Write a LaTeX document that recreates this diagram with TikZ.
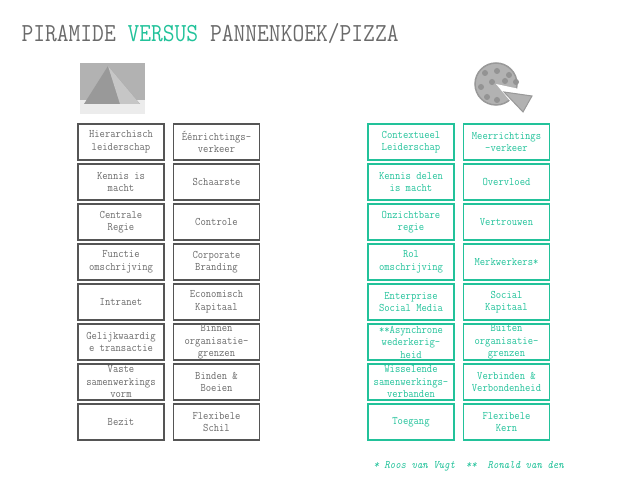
\documentclass[tikz,border=0pt]{standalone}
\usepackage{fontspec}
\setmainfont{Latin Modern Mono}
\definecolor{tealc}{HTML}{22C29A}
\definecolor{grayb}{HTML}{555555}
\definecolor{grayt}{HTML}{6A6A6A}
\begin{document}
\begin{tikzpicture}[x=1pt,y=-1pt,
  cell/.style={draw,line width=1.4pt,minimum width=86pt,minimum height=36pt,inner sep=0pt},
  txt/.style={align=center,font=\fontsize{11.5}{12.5}\selectfont\addfontfeature{FakeStretch=0.9},inner sep=0pt},
  lft/.style={draw=grayb,text=grayt},
  rgt/.style={draw=tealc,text=tealc}]
\useasboundingbox (0,0) rectangle (638,478);
\node[anchor=west,font=\fontsize{26}{27}\selectfont\addfontfeature{FakeStretch=0.88},text=grayt] (title) at (18,34) {PIRAMIDE \textcolor{tealc}{VERSUS} PANNENKOEK/PIZZA};
% pyramid picture
\node[fill=gray!60,minimum width=65pt,minimum height=51pt,inner sep=0pt] (pyr) at (112.5,88.5) {};
\fill[gray!15] (80,100) rectangle (145,114);
\fill[gray!80] (108,66) -- (84,104) -- (140,104) -- cycle;
\fill[gray!45] (108,66) -- (120,104) -- (140,104) -- cycle;
% pizza picture
\node[circle,fill=gray!60,draw=gray!80,line width=1.5pt,minimum size=42pt,inner sep=0pt] (pizza) at (496,84) {};
\fill[white] (496,84) -- (524,90) -- (516,108) -- cycle;
\fill[gray!60,draw=gray!80,line width=1pt] (504,92) -- (532,96) -- (523,112) -- cycle;
\foreach \a/\b in {485/73,497/71,509/75,481/87,492/82,505/81,487/97,497/100,516/82} \fill[gray!85] (\a,\b) circle (3pt);
\newcommand\bx[5]{%
  \node[cell,#4] (#1) at (#2,#3) {};
  \node[txt,#4,draw=none] at (#1) {#5};}
\foreach \n/\y/\a/\b/\c/\d in {
 1/142/{Hierarchisch\\leiderschap}/{Éénrichtings-\\verkeer}/{Contextueel\\Leiderschap}/{Meerrichtings\\-verkeer},
 2/182/{Kennis is\\macht}/{Schaarste}/{Kennis delen\\is macht}/{Overvloed},
 3/222/{Centrale\\Regie}/{Controle}/{Onzichtbare\\regie}/{Vertrouwen},
 4/262/{Functie\\omschrijving}/{Corporate\\Branding}/{Rol\\omschrijving}/{Merkwerkers*},
 5/302/{Intranet}/{Economisch\\Kapitaal}/{Enterprise\\Social Media}/{Social\\Kapitaal},
 6/342/{Gelijkwaardig\\e transactie}/{Binnen\\organisatie-\\grenzen}/{**Asynchrone\\wederkerig-\\heid}/{Buiten\\organisatie-\\grenzen},
 7/382/{Vaste\\samenwerkings\\vorm}/{Binden \&\\Boeien}/{Wisselende\\samenwerkings-\\verbanden}/{Verbinden \&\\Verbondenheid},
 8/422/{Bezit}/{Flexibele\\Schil}/{Toegang}/{Flexibele\\Kern}}
{
 \bx{a\n}{121}{\y}{lft}{\a}
 \bx{b\n}{216.5}{\y}{lft}{\b}
 \bx{c\n}{411}{\y}{rgt}{\c}
 \bx{d\n}{506.5}{\y}{rgt}{\d}
}
\node[anchor=west,text=tealc,font=\fontsize{11.5}{10}\selectfont\addfontfeature{FakeStretch=0.9}\itshape] (foot) at (370,466) {* Roos van Vugt~~**~ Ronald van den};
\end{tikzpicture}
\end{document}
